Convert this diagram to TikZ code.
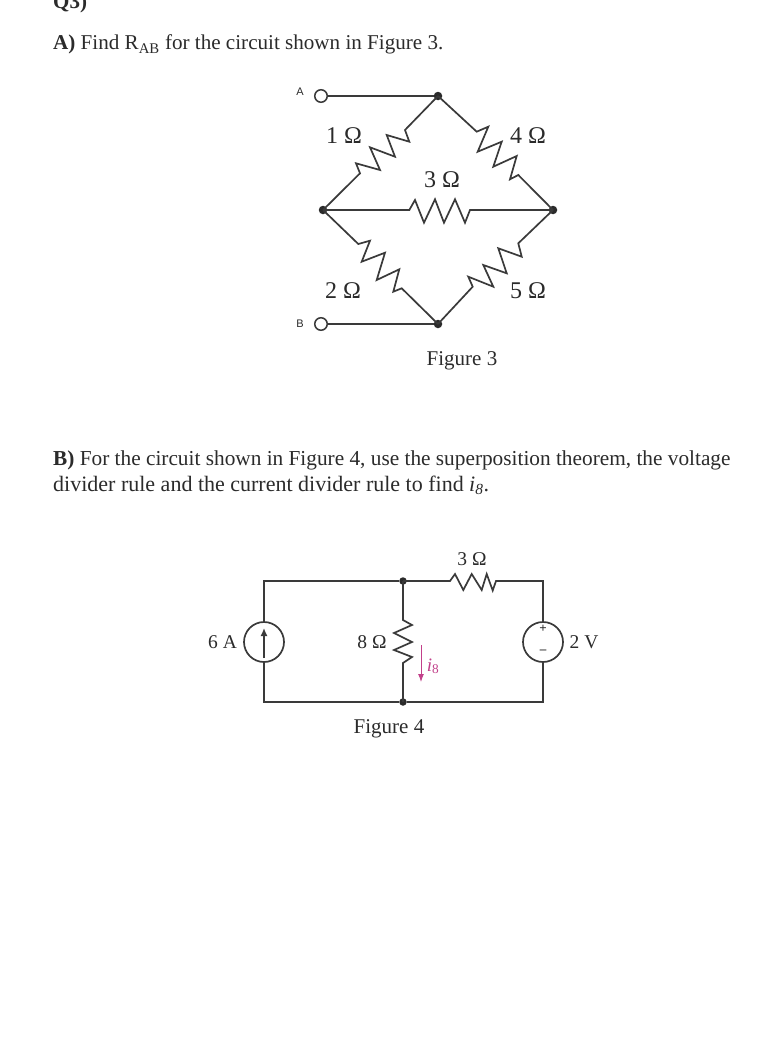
\documentclass[tikz,border=0pt]{standalone}
\usepackage{fontspec}
\setmainfont{Liberation Serif}
\newfontfamily\labelsans{Liberation Sans}
\usetikzlibrary{arrows.meta}
\definecolor{ink}{HTML}{2B2B2B}
\definecolor{wirecol}{HTML}{3A3A3A}
\definecolor{pinkish}{HTML}{C2408A}
\tikzset{
  wire/.style={draw=wirecol,line width=1.7pt,line join=miter},
  junction/.style={circle,fill=ink,inner sep=0pt,minimum size=8.5pt},
  smalljunction/.style={circle,fill=ink,inner sep=0pt,minimum size=7.5pt},
  terminal/.style={circle,draw=wirecol,line width=1.5pt,fill=white,inner sep=0pt,minimum size=12.5pt},
  source/.style={circle,draw=wirecol,line width=1.7pt,fill=white,inner sep=0pt,minimum size=40pt},
  bodytext/.style={anchor=base west,inner sep=0pt,text=ink,font=\fontsize{#1}{24}\selectfont},
  fig/.style={anchor=base,inner sep=0pt,text=ink,font=\fontsize{21}{24}\selectfont},
  val/.style={anchor=base,inner sep=0pt,text=ink,font=\fontsize{24}{26}\selectfont},
  smallval/.style={anchor=base,inner sep=0pt,text=ink,font=\fontsize{19.5}{22}\selectfont},
  termlabel/.style={inner sep=0pt,text=ink,font=\labelsans\fontsize{11}{12}\selectfont},
  sign/.style={inner sep=0pt,text=ink,font=\bfseries\fontsize{13}{13}\selectfont}
}
\begin{document}
\begin{tikzpicture}[x=1pt,y=-1pt]
\useasboundingbox (0,0) rectangle (764,1057);
\clip (0,0) rectangle (764,1057);
\fill[white] (0,0) rectangle (764,1057);
% text
\node[bodytext=21] (q) at (53,9) {\textbf{Q3)}};
\node[bodytext=21.1] (parta) at (53,50) {\textbf{A)} Find R\textsubscript{AB} for the circuit shown in Figure 3.};
\node[bodytext=21.3] (partb1) at (53,465) {\textbf{B)} For the circuit shown in Figure 4, use the superposition theorem, the voltage};
\node[bodytext=22] (partb2) at (53,491) {divider rule and the current divider rule to find \textit{i}\textsubscript{\textit{8}}.};
% Figure 3
\node[junction] (top) at (438,96) {};
\node[junction] (left) at (323,210) {};
\node[junction] (right) at (553,210) {};
\node[junction] (bot) at (438,324) {};
\node[terminal] (ta) at (321,96) {};
\node[terminal] (tb) at (321,324) {};
\draw[wire] (ta) -- (top);
\draw[wire] (tb) -- (bot);
\draw[wire] (left.center) -- (360,173.3) -- (356,163.3) -- (380,170) -- (370,147.3) -- (395,156.7) -- (386.7,135) -- (409.3,141.7) -- (405,130) -- (top.center);
\draw[wire] (top.center) -- (476.7,131.7) -- (488.3,126.7) -- (477.7,151.7) -- (501.7,141.7) -- (493.3,166.7) -- (516.7,156) -- (510,179.3) -- (518.3,175) -- (right.center);
\draw[wire] (left.center) -- (358.3,244) -- (370,240.7) -- (361.7,261.7) -- (385,252.7) -- (376.7,280) -- (399.3,269.3) -- (393.3,291.7) -- (401.7,288.3) -- (bot.center);
\draw[wire] (bot.center) -- (472.7,286.7) -- (468.3,276.7) -- (493.3,286.7) -- (483.3,265) -- (506.7,273.3) -- (498.3,248.3) -- (521.7,256.7) -- (518.3,243.3) -- (right.center);
\draw[wire] (left.center) -- (409.3,210) -- (415,200) -- (424,222.7) -- (435,199.3) -- (444,222.7) -- (455,199.3) -- (465,222.7) -- (470,210) -- (right.center);
\node[termlabel] (la) at (300,91.5) {A};
\node[termlabel] (lb) at (300,324) {B};
\node[val] (r1) at (344,143) {1 Ω};
\node[val] (r4) at (528,143) {4 Ω};
\node[val] (r3) at (442,187) {3 Ω};
\node[val] (r2) at (343,298) {2 Ω};
\node[val] (r5) at (528,298) {5 Ω};
\node[fig] (f3) at (462,365) {Figure 3};
% Figure 4
\coordinate (tl) at (264,581);
\coordinate (tr) at (543,581);
\coordinate (bl) at (264,702);
\coordinate (br) at (543,702);
\node[smalljunction] (tm) at (403,581) {};
\node[smalljunction] (bm) at (403,702) {};
\node[source] (isrc) at (264,642) {};
\node[source] (vsrc) at (543,642) {};
\draw[wire] (isrc) -- (tl) -- (tm);
\draw[wire] (tm.center) -- (450,581) -- (455,574) -- (463.3,590) -- (471.7,574) -- (481.7,590) -- (486.7,574) -- (492.7,590.5) -- (496,581) -- (tr) -- (vsrc);
\draw[wire] (isrc) -- (bl) -- (bm) -- (br) -- (vsrc);
\draw[wire] (tm.center) -- (403,620) -- (412,625) -- (394,633) -- (412,642) -- (394,650) -- (412,657) -- (403,663) -- (bm.center);
\coordinate (ia) at (264,658);
\coordinate (ib) at (264,628);
\draw[wirecol,line width=1.4pt,-{Latex[length=8pt,width=7pt]}] (ia) -- (ib);
\node[sign] (plus) at (543,629) {+};
\node[sign] (minus) at (543,652) {--};
\coordinate (pa) at (421,645);
\coordinate (pb) at (421,682);
\draw[pinkish,line width=1pt,-{Latex[length=8pt,width=6pt]}] (pa) -- (pb);
\node[inner sep=0pt,anchor=base,text=pinkish,font=\fontsize{19}{22}\selectfont] (is) at (433,671) {\textit{i}\textsubscript{8}};
\node[smallval] (l6a) at (222.5,648) {6 A};
\node[smallval] (l8) at (372,648) {8 Ω};
\node[smallval] (l3) at (472,565) {3 Ω};
\node[smallval] (l2v) at (584,648) {2 V};
\node[fig] (f4) at (389,733) {Figure 4};
\end{tikzpicture}
\end{document}
